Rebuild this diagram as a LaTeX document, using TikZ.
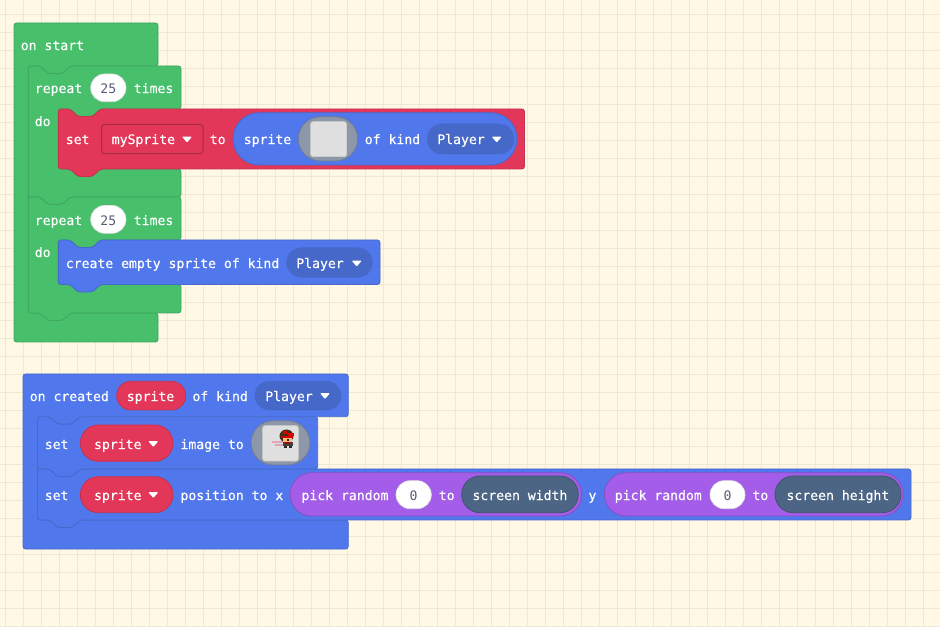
\documentclass[tikz,border=0pt]{standalone}
\usepackage{fontspec}
\setmonofont[FakeBold=0.35]{DejaVu Sans Mono}
\newfontfamily\numfont{DejaVu Sans Mono}
\definecolor{bgc}{HTML}{FFF8E5}
\definecolor{gridc}{HTML}{F0E8D5}
\definecolor{grn}{HTML}{47BF6B}
\definecolor{grnd}{HTML}{3FA861}
\definecolor{redb}{HTML}{E23758}
\definecolor{redd}{HTML}{C43452}
\definecolor{blu}{HTML}{5078EC}
\definecolor{blud}{HTML}{4769CB}
\definecolor{dropb}{HTML}{4668C9}
\definecolor{pur}{HTML}{A45DE9}
\definecolor{purd}{HTML}{8A4EC5}
\definecolor{slat}{HTML}{4C6584}
\definecolor{slatd}{HTML}{40556F}
\definecolor{imgp}{HTML}{8D97A8}
\definecolor{imgd}{HTML}{6F7C99}
\definecolor{numt}{HTML}{575E75}
\tikzset{
  x=0.75pt,y=-0.75pt,
  blocksh/.style={line width=0.65pt,rounded corners=2pt,line join=round},
  grnblock/.style={blocksh,fill=grn,draw=grnd},
  redblock/.style={blocksh,fill=redb,draw=redd},
  blublock/.style={blocksh,fill=blu,draw=blud},
  txt/.style={anchor=base west,inner sep=0pt,text=white,xshift=-0.35pt,yshift=-3.4pt,font=\ttfamily\fontsize{9.85pt}{12pt}\selectfont},
  numtxt/.style={anchor=base,inner sep=0pt,text=numt,yshift=-3.4pt,font=\numfont\fontsize{9.85pt}{12pt}\selectfont},
  numpill/.style={fill=white,draw=black!12,line width=0.5pt},
  redpill/.style={fill=redb,draw=redd,line width=0.65pt},
  blupill/.style={fill=blu,draw=blud,line width=0.65pt},
  droppill/.style={fill=dropb,draw=blud,line width=0.5pt},
  purpill/.style={fill=pur,draw=purd,line width=0.65pt},
  slatpill/.style={fill=slat,draw=slatd,line width=0.65pt},
  imgpill/.style={fill=imgp,draw=imgd,line width=0.65pt},
  imgbox/.style={fill=black!12.5,draw=black!18,line width=0.4pt,rounded corners=1.8pt},
}
% #1 style, #2 x1, #3 y1, #4 x2, #5 y2
\newcommand\pillshape[5]{%
  \pgfmathsetmacro\pillrad{(#5-#3)*0.375}%
  \path[#1,rounded corners=\pillrad pt] (#2,#3) rectangle (#4,#5);}
\newcommand\ddarrow[2]{%
  \fill[white,rounded corners=0.7pt] (#1-5,#2-2.8) -- (#1+5,#2-2.8) -- (#1,#2+3) -- cycle;}
\newcommand\topnotch[2]{-- (#1,#2) -- ++(8,7.5) -- ++(14.5,0) -- ++(8,-7.5)}
\newcommand\bottab[2]{-- (#1+30.5,#2) -- ++(-8,7.5) -- ++(-14.5,0) -- ++(-8,-7.5)}
\begin{document}
\begin{tikzpicture}
\useasboundingbox (0,0) rectangle (940,627);
\fill[bgc] (0,0) rectangle (940,627);
\foreach \k in {0,...,52} {\draw[gridc,line width=0.75pt] (5.5+18*\k,0) -- (5.5+18*\k,627);}
\foreach \k in {0,...,34} {\draw[gridc,line width=0.75pt] (0,14.3+18*\k) -- (940,14.3+18*\k);}

% on start
\draw[grnblock] (14,23) -- (158,23) -- (158,66) \bottab{40}{66} -- (28.4,66) -- (28.4,313) -- (158,313) -- (158,342) -- (14,342) -- cycle;
\node[txt] (onstart) at (21,45.5) {on start};

% repeat 1
\draw[grnblock] (28.4,66) \topnotch{40}{66} -- (181,66) -- (181,109) \bottab{70}{109} -- (58.4,109) -- (58.4,169) -- (181,169) -- (181,197) \bottab{40}{197} -- (28.4,197) -- cycle;
\node[txt] (rep1) at (35,88.5) {repeat};
\pillshape{numpill}{90.7}{74}{126}{101.7}
\node[numtxt] (n1) at (108.3,88.5) {25};
\node[txt] (times1) at (134,88.5) {times};
\node[txt] (do1) at (35,121.5) {do};

% repeat 2
\draw[grnblock] (28.4,197) \topnotch{40}{197} -- (181,197) -- (181,240) \bottab{70}{240} -- (58.4,240) -- (58.4,284.5) -- (181,284.5) -- (181,313) \bottab{40}{313} -- (28.4,313) -- cycle;
\node[txt] (rep2) at (35,220.5) {repeat};
\pillshape{numpill}{90.7}{205.5}{126}{233.3}
\node[numtxt] (n2) at (108.3,220.5) {25};
\node[txt] (times2) at (134,220.5) {times};
\node[txt] (do2) at (35,252.5) {do};

% set mySprite
\draw[redblock] (58.4,109) \topnotch{70}{109} -- (524.5,109) -- (524.5,169) \bottab{70}{169} -- (58.4,169) -- cycle;
\node[txt] (set1) at (66,139.5) {set};
\draw[fill=redb,draw=redd!85!black,line width=0.75pt,rounded corners=2.2pt] (101.7,124.3) rectangle (203,153.7);
\node[txt] (my) at (112,139.5) {mySprite};
\ddarrow{187}{139.5}
\node[txt] (to1) at (210,139.5) {to};
\pillshape{blupill}{233}{112.7}{517}{165}
\node[txt] (spr1) at (244,139.5) {sprite};
\pillshape{imgpill}{298.3}{116.7}{357.7}{161}
\path[imgbox] (310.7,121.7) rectangle (346.5,156.7);
\node[txt] (ofk1) at (365,139.5) {of kind};
\pillshape{droppill}{427.3}{124}{514}{154}
\node[txt] (pl1) at (437.5,139.5) {Player};
\ddarrow{496.7}{139.5}

% create empty sprite
\draw[blublock] (58.4,240) \topnotch{70}{240} -- (380,240) -- (380,284.5) \bottab{70}{284.5} -- (58.4,284.5) -- cycle;
\node[txt] (create) at (66,263.5) {create empty sprite of kind};
\pillshape{droppill}{286.7}{247.7}{372.3}{277.3}
\node[txt] (pl2) at (296.5,263.5) {Player};
\ddarrow{356.7}{263.5}

% on created
\draw[blublock] (23,374) -- (348.3,374) -- (348.3,416.7) \bottab{49.5}{416.7} -- (37.5,416.7) -- (37.5,520) -- (348.3,520) -- (348.3,549) -- (23,549) -- cycle;
\node[txt] (oncr) at (30,396.5) {on created};
\pillshape{redpill}{116.7}{381.3}{185.7}{410}
\node[txt] (spr2) at (127,396.5) {sprite};
\node[txt] (ofk2) at (192.7,396.5) {of kind};
\pillshape{droppill}{255}{381.3}{341}{410}
\node[txt] (pl3) at (265.5,396.5) {Player};
\ddarrow{325}{396}

% set position (below)
\draw[blublock] (37.5,469) \topnotch{49.5}{469} -- (911,469) -- (911,520) \bottab{49.5}{520} -- (37.5,520) -- cycle;
% set image
\draw[blublock] (37.5,416.7) \topnotch{49.5}{416.7} -- (317.7,416.7) -- (317.7,469) \bottab{49.5}{469} -- (37.5,469) -- cycle;

\node[txt] (set2) at (45,444.5) {set};
\pillshape{redpill}{80.3}{425}{173}{461.3}
\node[txt] (spr3) at (94.3,444.5) {sprite};
\ddarrow{153.3}{444}
\node[txt] (imgto) at (180.7,444.5) {image to};
\pillshape{imgpill}{251}{420.7}{310}{465}
\path[imgbox] (262.7,425.7) rectangle (298.3,461);
% little player picture
\fill[black!10!purple!35!white] (271.5,441.5) rectangle (283,443.5);
\fill[black!25!purple!35!white] (275,444.5) rectangle (283,446.5);
\fill[black!65!brown] (286.5,436) ellipse [x radius=7,y radius=6.5];
\fill[red!85!black] (283,431.5) rectangle (287,434.5);
\fill[red!85!black] (288,433) rectangle (293.5,436);
\fill[red!80!black] (280.5,436.5) rectangle (293,438.5);
\fill[orange!55!white] (282.5,438.5) rectangle (291.5,442);
\fill[black!85] (287,439) rectangle (288.5,441);
\fill[black!75] (282.5,442) rectangle (293,446);
\fill[red!70!black] (285,442.5) rectangle (290,444);
\fill[black!85] (283.5,446) rectangle (286.5,448.5);
\fill[black!85] (289,446) rectangle (292,448.5);

\node[txt] (set3) at (45,495.5) {set};
\pillshape{redpill}{80.3}{476.7}{173}{512.7}
\node[txt] (spr4) at (94.3,495.5) {sprite};
\ddarrow{153.3}{495}
\node[txt] (posx) at (180.7,495.5) {position to x};
\pillshape{purpill}{290}{472.7}{581.7}{516}
\node[txt] (pr1) at (301.7,495.5) {pick random};
\pillshape{numpill}{396}{480.7}{431.3}{508.7}
\node[numtxt] (z1) at (413.6,495.5) {0};
\node[txt] (to2) at (439,495.5) {to};
\pillshape{slatpill}{461.7}{476}{578.3}{512.7}
\node[txt] (sw) at (472.7,495.5) {screen width};
\node[txt] (yy) at (588.7,495.5) {y};
\pillshape{purpill}{604.3}{472.7}{903.3}{516}
\node[txt] (pr2) at (615,495.5) {pick random};
\pillshape{numpill}{710}{480.7}{745}{508.7}
\node[numtxt] (z2) at (727.5,495.5) {0};
\node[txt] (to3) at (752.7,495.5) {to};
\pillshape{slatpill}{775}{476}{901}{512.7}
\node[txt] (sh) at (786.7,495.5) {screen height};
\end{tikzpicture}
\end{document}
